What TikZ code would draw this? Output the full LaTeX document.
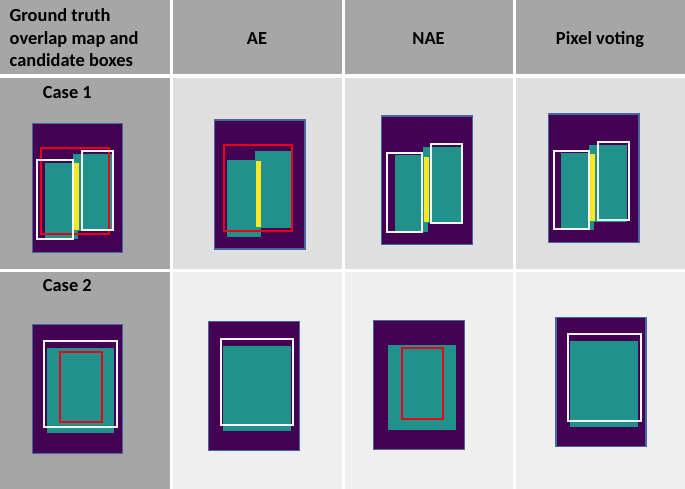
\documentclass[tikz,border=0pt]{standalone}
\usepackage{fontspec}
\setmainfont{Carlito}
\definecolor{hdr}{RGB}{166,166,166}
\definecolor{rowA}{RGB}{223,223,223}
\definecolor{rowB}{RGB}{239,239,239}
\definecolor{vpurple}{RGB}{68,1,84}
\definecolor{vteal}{RGB}{33,145,140}
\definecolor{vyellow}{RGB}{253,231,37}
\definecolor{frameblue}{RGB}{72,102,160}
\definecolor{boxred}{RGB}{235,0,20}
\definecolor{boxwhite}{RGB}{245,245,245}
\tikzset{
  lbl/.style={inner sep=0pt, font=\fontsize{18.4}{22}\selectfont\bfseries},
  mapframe/.style={fill=vpurple, draw=frameblue, line width=1.2pt},
  tealreg/.style={fill=vteal},
  yelreg/.style={fill=vyellow},
  redbox/.style={draw=boxred, line width=2pt},
  whitebox/.style={draw=boxwhite, line width=2.2pt},
}
\begin{document}
\begin{tikzpicture}[x=1pt,y=-1pt]
\useasboundingbox (0,0) rectangle (685,489);
% background / cells
\fill[white] (0,0) rectangle (685,489);
\fill[hdr] (0,0) rectangle (170,74);
\fill[hdr] (172.5,0) rectangle (342,74);
\fill[hdr] (344.5,0) rectangle (513,74);
\fill[hdr] (515.5,0) rectangle (685,74);
\fill[hdr] (0,78) rectangle (170,269);
\fill[rowA] (172.5,78) rectangle (342,269);
\fill[rowA] (344.5,78) rectangle (513,269);
\fill[rowA] (515.5,78) rectangle (685,269);
\fill[hdr] (0,271.5) rectangle (170,489);
\fill[rowB] (172.5,271.5) rectangle (342,489);
\fill[rowB] (344.5,271.5) rectangle (513,489);
\fill[rowB] (515.5,271.5) rectangle (685,489);
% header texts
\node[lbl, anchor=base west] (h1a) at (9.5,21.7) {Ground truth};
\node[lbl, anchor=base west] (h1b) at (9.5,44.3) {overlap map and};
\node[lbl, anchor=base west] (h1c) at (9.5,66.7) {candidate boxes};
\node[lbl, anchor=base] (h2) at (257,45) {AE};
\node[lbl, anchor=base] (h3) at (428.5,45) {NAE};
\node[lbl, anchor=base] (h4) at (600,45) {Pixel voting};
\node[lbl, anchor=base west] (c1) at (42.7,98.3) {Case 1};
\node[lbl, anchor=base west] (c2) at (42.7,291.5) {Case 2};
% ---------- Case 1 ----------
% col 1
\filldraw[mapframe] (32.3,123.3) rectangle (122.7,252.3);
\fill[tealreg] (45,162.7) rectangle (78.3,239.3);
\fill[tealreg] (73.3,154.3) rectangle (112.7,230.7);
\fill[yelreg] (74.3,163.3) rectangle (79.3,230);
\draw[redbox] (41,148.3) rectangle (109.3,234.3);
\draw[whitebox] (37.3,160) rectangle (72.7,239);
\draw[whitebox] (82,151) rectangle (112.7,230);
% col 2
\filldraw[mapframe] (214.7,120) rectangle (305,249);
\fill[tealreg] (227.3,160) rectangle (260.7,236.7);
\fill[tealreg] (255.3,151.3) rectangle (292.7,228.3);
\fill[yelreg] (256.3,160.7) rectangle (261,227.3);
\draw[redbox] (223.7,145) rectangle (291.7,231.3);
% col 3
\filldraw[mapframe] (381.7,116) rectangle (472.3,244.3);
\fill[tealreg] (394.7,155) rectangle (428.3,232.3);
\fill[tealreg] (422.7,146.7) rectangle (460.7,223.3);
\fill[yelreg] (424,156.7) rectangle (428.7,222.3);
\draw[whitebox] (387.3,152.7) rectangle (421.7,231.7);
\draw[whitebox] (431.3,144) rectangle (462,222.7);
% col 4
\filldraw[mapframe] (548.3,114) rectangle (639,242.3);
\fill[tealreg] (561,153.3) rectangle (594,230);
\fill[tealreg] (589.3,145) rectangle (627.3,221.7);
\fill[yelreg] (590.3,154.3) rectangle (594.7,220.7);
\draw[whitebox] (553.7,150.7) rectangle (588.7,229);
\draw[whitebox] (598.3,141.7) rectangle (628.7,220.3);
% ---------- Case 2 ----------
% col 1
\filldraw[mapframe] (32.3,324.3) rectangle (122.7,453.3);
\fill[tealreg] (46.7,347.7) rectangle (114,433.3);
\draw[whitebox] (44.3,340.7) rectangle (116.7,426.7);
\draw[redbox] (60.3,351.7) rectangle (101.7,422.3);
% col 2
\filldraw[mapframe] (208.3,321.7) rectangle (299.3,450.7);
\fill[tealreg] (222.7,345.7) rectangle (291,431);
\draw[whitebox] (221,338.7) rectangle (293.3,425);
% col 3
\filldraw[mapframe] (373.3,320.7) rectangle (464.3,449.7);
\fill[tealreg] (388.3,345) rectangle (455.7,430);
\draw[redbox] (402.3,348.3) rectangle (443.3,419.3);
% col 4
\filldraw[mapframe] (556,317.3) rectangle (646,446.3);
\fill[tealreg] (570,341) rectangle (637.7,426.7);
\draw[whitebox] (567.7,334) rectangle (640.7,420.7);
\end{tikzpicture}
\end{document}
